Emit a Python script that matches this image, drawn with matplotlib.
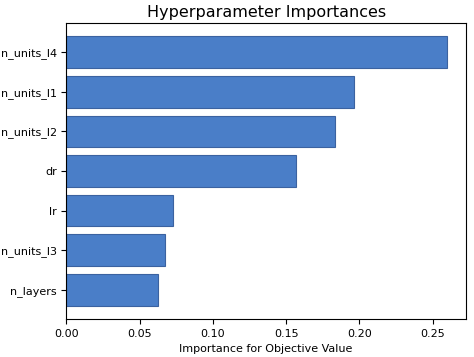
import matplotlib.pyplot as plt

params = ["n_layers", "n_units_l3", "lr", "dr", "n_units_l2", "n_units_l1", "n_units_l4"]
importances = [0.0625, 0.0675, 0.073, 0.157, 0.1834, 0.1966, 0.2598]

fig, ax = plt.subplots(figsize=(4.74, 3.57), dpi=100)
ax.barh(params, importances, height=0.8, color="#4a7ec8", edgecolor="#3b62a0", lw=0.8)
ax.set_title("Hyperparameter Importances", fontsize=11.5, pad=4)
ax.set_xlabel("Importance for Objective Value", fontsize=8)
ax.tick_params(labelsize=8)
fig.subplots_adjust(left=0.14, right=0.983, top=0.936, bottom=0.106)
fig.savefig("out.png")
